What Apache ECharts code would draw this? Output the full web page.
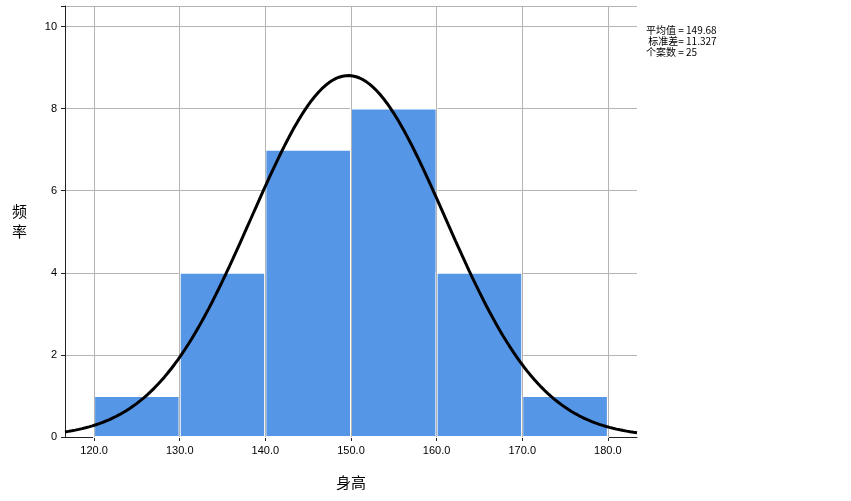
<!DOCTYPE html>
<html><head><meta charset="utf-8">
<script src="https://cdn.jsdelivr.net/npm/echarts@6/dist/echarts.min.js"></script>
</head><body style="margin:0">
<div id="c" style="width:851px;height:501px"></div>
<script>
const binStarts = [120,130,140,150,160,170];
const binWidth = 10;
const counts = [1,4,7,8,4,1];
const xTicks = [120,130,140,150,160,170,180];
const mean = 149.68, sd = 11.327, n = 25;
const curve = [];
for (let x = 116.6; x <= 183.41; x += 0.4) {
  curve.push([x, n*binWidth/(sd*Math.sqrt(2*Math.PI))*Math.exp(-0.5*((x-mean)/sd)**2)]);
}
const chart = echarts.init(document.getElementById('c'));
chart.setOption({
  animation:false,
  grid:{left:65,right:214,top:6,bottom:64},
  xAxis:{type:'value',min:116.6,max:183.4,name:'身高',nameLocation:'middle',nameGap:38,
    nameTextStyle:{fontSize:15,color:'#000',fontFamily:'Noto Sans CJK SC'},
    axisLine:{lineStyle:{color:'#222'}},splitLine:{show:false},
    axisTick:{customValues:xTicks,length:4,lineStyle:{color:'#222'}},
    axisLabel:{customValues:xTicks,color:'#000',fontSize:11,formatter:v=>v.toFixed(1)}},
  yAxis:{type:'value',min:0,max:10.5,interval:2,name:'频\n率',nameLocation:'middle',nameGap:38,nameRotate:0,
    nameTextStyle:{fontSize:15,color:'#000',fontFamily:'Noto Sans CJK SC',lineHeight:20},
    axisLine:{show:true,lineStyle:{color:'#222'}},axisTick:{show:true,length:4,lineStyle:{color:'#222'}},
    axisLabel:{color:'#000',fontSize:11,formatter:v=>v<=10?String(v):''},
    splitLine:{lineStyle:{color:'#b4b4b4'}}},
  series:[
    {type:'line',data:[],markLine:{silent:true,symbol:'none',label:{show:false},
      lineStyle:{color:'#b4b4b4',type:'solid',width:1},data:xTicks.map(v=>({xAxis:v}))}},
    {type:'custom',data:binStarts.map((s,i)=>[s,counts[i]]),
      renderItem:(p,api)=>{const a=api.coord([api.value(0),api.value(1)]);const b=api.coord([api.value(0)+binWidth,0]);
        return {type:'rect',shape:{x:a[0],y:a[1],width:b[0]-a[0],height:b[1]-a[1]},
          style:{fill:'#5596e6',stroke:'#fff',lineWidth:2}};}},
    {type:'line',data:curve,showSymbol:false,smooth:false,lineStyle:{color:'#000',width:3},z:5}
  ],
  graphic:[{type:'text',left:646,top:25,style:{text:'平均值 = 149.68\n 标准差= 11.327\n个案数 = 25',
    fontSize:10,lineHeight:11,fill:'#000',fontFamily:'Noto Sans CJK SC'}}]
});
</script></body></html>
